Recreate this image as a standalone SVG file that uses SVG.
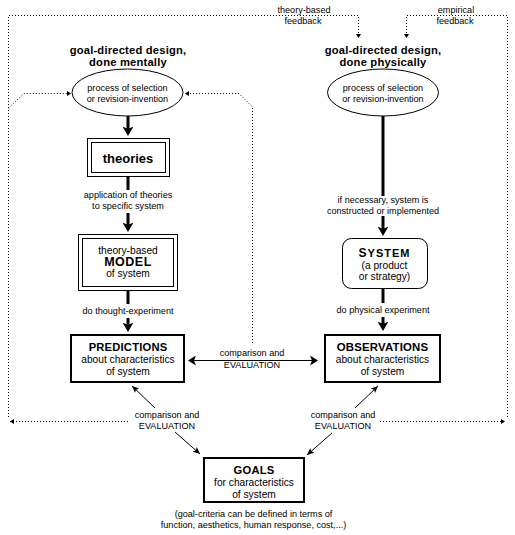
<svg xmlns="http://www.w3.org/2000/svg" width="515" height="535" viewBox="0 0 515 535">
<style>
text{font-family:"Liberation Sans",Arial,sans-serif;text-anchor:middle;fill:#000}
.s{font-size:9.1px}
.m{font-size:10.2px}
.b{font-size:11.2px;font-weight:bold;letter-spacing:0.2px}
.box{fill:#fff;stroke:#000;stroke-width:1}
.thick{fill:#fff;stroke:#000;stroke-width:2}
.stem{stroke:#000;stroke-width:3;fill:none}
.thin{stroke:#000;stroke-width:1;fill:none}
.dot{stroke:#000;stroke-width:1;fill:none;stroke-dasharray:1 2}
</style>
<defs>
<marker id="big" markerUnits="userSpaceOnUse" markerWidth="10" markerHeight="12" viewBox="0 0 10 12" refX="5" refY="6" orient="auto"><path d="M0,0.5 L9.5,6 L0,11.5 L2.5,6 Z" fill="#000"/></marker>
<marker id="mid" markerUnits="userSpaceOnUse" markerWidth="8" markerHeight="10" viewBox="0 0 8 10" refX="6" refY="5" orient="auto-start-reverse"><path d="M0,0 L8,5 L0,10 L2,5 Z" fill="#000"/></marker>
<marker id="sm" markerUnits="userSpaceOnUse" markerWidth="7" markerHeight="6" viewBox="0 0 7 6" refX="7" refY="3" orient="auto"><path d="M0,0 L7,3 L0,6 L1.5,3 Z" fill="#000"/></marker>
<marker id="dt" markerUnits="userSpaceOnUse" markerWidth="4" markerHeight="5" viewBox="0 0 4 5" refX="4" refY="2.5" orient="auto"><path d="M0,0 L4,2.5 L0,5 Z" fill="#000"/></marker>
</defs>
<rect width="515" height="535" fill="#fff"/>

<g id="connectors">
  <!-- dotted feedback lines -->
  <path class="dot" d="M8.5,417 V15.5 H358.5 V38" marker-end="url(#dt)"/>
  <path class="dot" d="M128,421.5 H10" marker-end="url(#dt)"/>
  <path class="dot" d="M8.5,108 L24,93.5 H71" marker-end="url(#dt)"/>
  <path class="dot" d="M252.5,343 V107 L239,93.5 H185" marker-end="url(#dt)"/>
  <path class="dot" d="M507.5,417 V15.5 H406.5 V38" marker-end="url(#dt)"/>
  <path class="dot" d="M380,421.5 H505" marker-end="url(#dt)"/>
  <!-- left column -->
  <path class="stem" d="M128,116 V131.5" marker-end="url(#big)"/>
  <path class="stem" d="M128,176 V190"/>
  <path class="stem" d="M128,213 V227.5" marker-end="url(#big)"/>
  <path class="stem" d="M128,290 V304"/>
  <path class="stem" d="M128,318 V327.5" marker-end="url(#big)"/>
  <!-- right column -->
  <path class="stem" d="M383,116 V196"/>
  <path class="stem" d="M383,216 V231.5" marker-end="url(#big)"/>
  <path class="stem" d="M383,288 V303"/>
  <path class="stem" d="M383,317 V326.5" marker-end="url(#big)"/>
  <!-- comparison -->
  <path class="thin" d="M190,360.5 H316" marker-start="url(#mid)" marker-end="url(#mid)"/>
  <path class="thin" d="M155,408 L132,386" marker-end="url(#sm)"/>
  <path class="thin" d="M175,432 L200,454" marker-end="url(#sm)"/>
  <path class="thin" d="M355,408 L378,386" marker-end="url(#sm)"/>
  <path class="thin" d="M332,433 L307,455" marker-end="url(#sm)"/>
  <!-- labels -->
  <text class="s" x="304" y="12.5">theory-based</text>
  <text class="s" x="303" y="23.5">feedback</text>
  <text class="s" x="456" y="12.5">empirical</text>
  <text class="s" x="455" y="23.5">feedback</text>
  <text class="s" x="128" y="198">application of theories</text>
  <text class="s" x="128" y="209">to specific system</text>
  <text class="s" x="128" y="313.5">do thought-experiment</text>
  <text class="s" x="383" y="203">if necessary, system is</text>
  <text class="s" x="383" y="214">constructed or implemented</text>
  <text class="s" x="383" y="313">do physical experiment</text>
  <text class="s" x="252" y="355.5">comparison and</text>
  <text class="s" x="252" y="368">EVALUATION</text>
  <text class="s" x="167" y="417.5">comparison and</text>
  <text class="s" x="167" y="429">EVALUATION</text>
  <text class="s" x="343" y="417.5">comparison and</text>
  <text class="s" x="343" y="429">EVALUATION</text>
</g>

<g id="mental-design">
  <text class="b" x="128" y="54">goal-directed design,</text>
  <text class="b" x="128" y="66">done mentally</text>
  <ellipse class="box" cx="127.5" cy="92.5" rx="55.5" ry="23.5"/>
  <text class="s" x="127.5" y="91">process of selection</text>
  <text class="s" x="127.5" y="102">or revision-invention</text>
</g>

<g id="physical-design">
  <text class="b" x="383" y="54">goal-directed design,</text>
  <text class="b" x="383" y="66">done physically</text>
  <ellipse class="box" cx="383" cy="92.5" rx="55.5" ry="23.5"/>
  <text class="s" x="383" y="91">process of selection</text>
  <text class="s" x="383" y="102">or revision-invention</text>
</g>

<g id="theories">
  <rect class="box" x="87.5" y="138.5" width="82" height="38"/>
  <rect class="box" x="91.5" y="142.5" width="74" height="30"/>
  <text x="128" y="162.5" style="font-size:13px;font-weight:bold">theories</text>
</g>

<g id="model">
  <rect class="box" x="78.5" y="234.5" width="99" height="56"/>
  <rect class="box" x="82.5" y="238.5" width="91" height="48"/>
  <text class="m" x="128" y="253.5">theory-based</text>
  <text x="128" y="266" style="font-size:12.5px;font-weight:bold;letter-spacing:0.5px">MODEL</text>
  <text class="m" x="128" y="277">of system</text>
</g>

<g id="predictions">
  <rect class="thick" x="71" y="335" width="113" height="47"/>
  <text class="b" x="128" y="351">PREDICTIONS</text>
  <text class="m" x="128" y="363">about characteristics</text>
  <text class="m" x="128" y="374.5">of system</text>
</g>

<g id="system">
  <rect class="box" x="342.5" y="238.5" width="85" height="50" rx="9" ry="9"/>
  <text x="384.5" y="257" style="font-size:11px;font-weight:bold;letter-spacing:1px"><tspan style="font-size:12px">S</tspan>YSTEM</text>
  <text class="m" x="384.5" y="268.5">(a product</text>
  <text class="m" x="384.5" y="279.5">or strategy)</text>
</g>

<g id="observations">
  <rect class="thick" x="325" y="335" width="115" height="47"/>
  <text class="b" x="382.5" y="351" style="font-size:11.4px">OBSERVATIONS</text>
  <text class="m" x="382.5" y="363">about characteristics</text>
  <text class="m" x="382.5" y="374.5">of system</text>
</g>

<g id="goals">
  <rect class="thick" x="204" y="458" width="100" height="44"/>
  <text class="b" x="254" y="473.5">GOALS</text>
  <text class="m" x="254" y="485.5">for characteristics</text>
  <text class="m" x="254" y="497.5">of system</text>
  <text class="s" x="253.5" y="517">(goal-criteria can be defined in terms of</text>
  <text class="s" x="253.5" y="528">function, aesthetics, human response, cost,...)</text>
</g>
</svg>
